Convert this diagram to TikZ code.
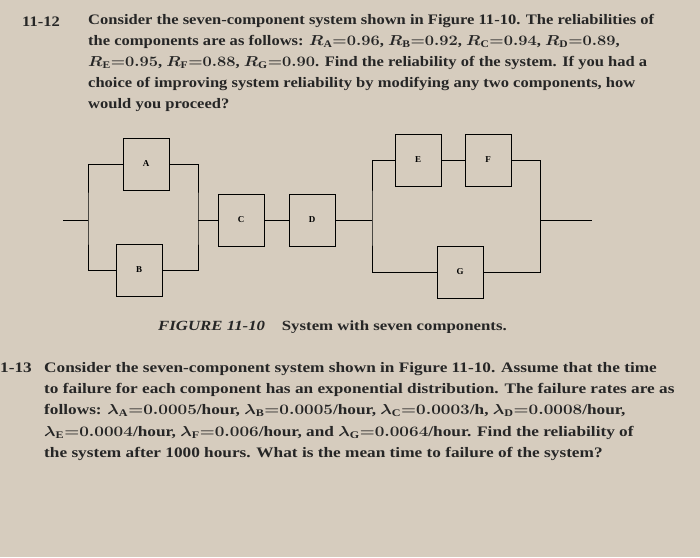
\documentclass[tikz,border=0pt]{standalone}
\usepackage{fontspec}
\setmainfont{Liberation Serif}
\begin{document}
\begin{tikzpicture}[x=1pt,y=-1pt,
  tx/.style={anchor=base west,inner sep=0pt,font=\fontsize{14.5}{16}\selectfont\bfseries\boldmath,text=black!85},
  comp/.style={draw,line width=1pt,minimum width=46pt,minimum height=52pt,font=\small\bfseries,inner sep=0pt},
  wire/.style={line width=1pt}]
\fill[fill={rgb,255:red,214;green,204;blue,190}] (0,0) rectangle (700,557);
\useasboundingbox (0,0) rectangle (700,557);
\newcommand{\wa}[1]{\scalebox{1.14}[1]{#1}}
\newcommand{\wb}[1]{\scalebox{1.19}[1]{#1}}
% problem 11-12
\node[tx] (n1) at (22,26) {\wa{11-12}};
\node[tx] (l1) at (88,24) {\wa{Consider the seven-component system shown in Figure 11-10. The reliabilities of}};
\node[tx] (l2) at (88,45) {\wa{the components are as follows: $R_{\mathrm{A}}{=}0.96$, $R_{\mathrm{B}}{=}0.92$, $R_{\mathrm{C}}{=}0.94$, $R_{\mathrm{D}}{=}0.89$,}};
\node[tx] (l3) at (88,66) {\wa{$R_{\mathrm{E}}{=}0.95$, $R_{\mathrm{F}}{=}0.88$, $R_{\mathrm{G}}{=}0.90$. Find the reliability of the system. If you had a}};
\node[tx] (l4) at (88,87) {\wa{choice of improving system reliability by modifying any two components, how}};
\node[tx] (l5) at (88,108) {\wa{would you proceed?}};
% diagram
\node[comp] (A) at (146,164) {A};
\node[comp] (B) at (139,270) {B};
\node[comp] (C) at (241,220) {C};
\node[comp] (D) at (312,220) {D};
\node[comp] (E) at (418,160) {E};
\node[comp] (F) at (488,160) {F};
\node[comp] (G) at (460,272) {G};
\coordinate (in) at (63,220);
\coordinate (out) at (592,220);
\draw[wire] (in) -- (88,220);
\draw[wire] (A.west) -| (88,220) |- (B.west);
\draw[wire] (A.east) -| (198,220) |- (B.east);
\draw[wire] (198,220) -- (C.west);
\draw[wire] (C) -- (D);
\draw[wire] (D.east) -- (372,220);
\draw[wire] (E.west) -| (372,220) |- (G.west);
\draw[wire] (E) -- (F);
\draw[wire] (F.east) -| (540,220) |- (G.east);
\draw[wire] (540,220) -- (out);
\node[tx,font=\fontsize{14}{16}\selectfont\bfseries] (cap) at (158,330) {\scalebox{1.2}[1]{\textit{FIGURE 11-10}\quad System with seven components.}};
% problem 11-13
\node[tx] (n2) at (0,372) {\wb{1-13}};
\node[tx] (m1) at (44,372) {\wb{Consider the seven-component system shown in Figure 11-10. Assume that the time}};
\node[tx] (m2) at (44,393) {\wb{to failure for each component has an exponential distribution. The failure rates are as}};
\node[tx] (m3) at (44,414) {\wb{follows: $\lambda_{\mathrm{A}}{=}0.0005$/hour, $\lambda_{\mathrm{B}}{=}0.0005$/hour, $\lambda_{\mathrm{C}}{=}0.0003$/h, $\lambda_{\mathrm{D}}{=}0.0008$/hour,}};
\node[tx] (m4) at (44,436) {\wb{$\lambda_{\mathrm{E}}{=}0.0004$/hour, $\lambda_{\mathrm{F}}{=}0.006$/hour, and $\lambda_{\mathrm{G}}{=}0.0064$/hour. Find the reliability of}};
\node[tx] (m5) at (44,457) {\wb{the system after 1000 hours. What is the mean time to failure of the system?}};
\end{tikzpicture}
\end{document}
